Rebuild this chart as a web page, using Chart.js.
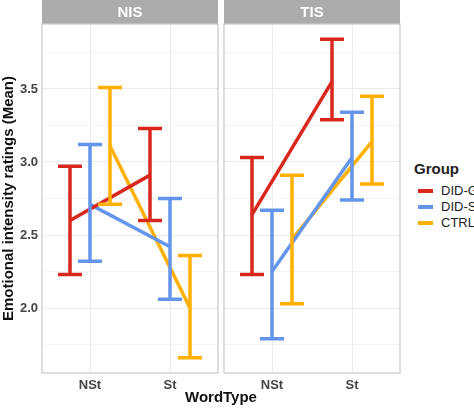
<!DOCTYPE html>
<html><head><meta charset="utf-8">
<script src="https://cdn.jsdelivr.net/npm/chart.js@4"></script>
<style>
body{margin:0;width:474px;height:410px;overflow:hidden;background:#fff;font-family:"Liberation Sans",Arial,sans-serif;position:relative}
canvas{position:absolute;top:0}
#xt{position:absolute;left:0;width:442px;top:388px;text-align:center;font-weight:bold;font-size:15px;color:#111}
#lg{position:absolute;left:414px;top:160px;font-size:13px;color:#222}
#lg .t{font-weight:bold;font-size:15px;margin-bottom:6px}
#lg .r{height:16px;line-height:16px;white-space:nowrap}
#lg .k{display:inline-block;width:15px;height:4px;vertical-align:middle;margin:0 8px 2px 4px}
</style></head><body>
<canvas id="c1" width="220" height="410" style="left:0;width:220px;height:410px"></canvas>
<canvas id="c2" width="180" height="410" style="left:222px;width:180px;height:410px"></canvas>
<div id="xt">WordType</div>
<div id="lg"><div class="t">Group</div>
<div class="r"><span class="k" style="background:#d8281e"></span>DID-G</div>
<div class="r"><span class="k" style="background:#6495ed"></span>DID-S</div>
<div class="r"><span class="k" style="background:#ffb000"></span>CTRL</div></div>
<script>
const categories=["NSt","St"];
const panels=["NIS","TIS"];
const groups=["DID-G","DID-S","CTRL"];
const colors=["#d8281e","#6495ed","#ffb000"];
const offsets=[-0.25,0,0.25];
// [panel][group] -> per category
const nisMean=[[2.60,2.91],[2.71,2.42],[3.11,2.00]];
const nisLow =[[2.23,2.60],[2.32,2.06],[2.71,1.66]];
const nisHigh=[[2.97,3.23],[3.12,2.75],[3.51,2.36]];
const tisMean=[[2.64,3.55],[2.25,3.03],[2.47,3.14]];
const tisLow =[[2.23,3.29],[1.79,2.74],[2.03,2.85]];
const tisHigh=[[3.03,3.84],[2.67,3.34],[2.91,3.45]];
const yMajor=[2.0,2.5,3.0,3.5];
const yTicks=[1.75,2.0,2.25,2.5,2.75,3.0,3.25,3.5,3.75];

function make(id,title,mean,low,high,first){
  const datasets=groups.map((g,i)=>({
    label:g,borderColor:colors[i],backgroundColor:colors[i],borderWidth:3.5,pointRadius:0,
    data:categories.map((c,j)=>({x:j+1+offsets[i],y:mean[i][j],lo:low[i][j],hi:high[i][j]}))
  }));
  const plug={id:'eb'+id,
    beforeDraw(ch){const a=ch.chartArea,x=ch.ctx;
      x.save();x.fillStyle='#ababab';x.fillRect(a.left,0,a.right-a.left,24);
      x.fillStyle='#fff';x.font='bold 15px "Liberation Sans"';x.textAlign='center';x.textBaseline='middle';
      x.fillText(title,(a.left+a.right)/2,13);x.restore();},
    afterDatasetsDraw(ch){const x=ch.ctx,sx=ch.scales.x,sy=ch.scales.y,a=ch.chartArea;
      x.save();
      ch.data.datasets.forEach(ds=>{x.strokeStyle=ds.borderColor;x.lineWidth=3.5;
        ds.data.forEach(p=>{const px=sx.getPixelForValue(p.x),y1=sy.getPixelForValue(p.lo),y2=sy.getPixelForValue(p.hi);
          x.beginPath();x.moveTo(px,y1);x.lineTo(px,y2);x.moveTo(px-12,y1);x.lineTo(px+12,y1);x.moveTo(px-12,y2);x.lineTo(px+12,y2);x.stroke();});});
      x.strokeStyle='#c8c8c8';x.lineWidth=1.2;x.strokeRect(a.left,a.top,a.right-a.left,a.bottom-a.top);
      x.restore();}
  };
  return new Chart(document.getElementById(id),{type:'line',data:{datasets},plugins:[plug],
    options:{responsive:false,animation:false,devicePixelRatio:1,
      layout:{padding:{top:24,right:2,left:first?0:2,bottom:0}},
      plugins:{legend:{display:false},tooltip:{enabled:false}},
      scales:{
        x:{type:'linear',min:0.4,max:2.6,afterBuildTicks(s){s.ticks=[{value:1},{value:2}];},
          afterFit(s){s.height=37;},
          grid:{color:'#ebebeb',drawTicks:false},border:{display:false},
          ticks:{padding:5,color:'#444',font:{size:13,weight:'bold',family:'Liberation Sans'},callback:v=>categories[v-1]}},
        y:{min:1.555,max:3.945,afterBuildTicks(s){s.ticks=yTicks.map(v=>({value:v}));},
          afterFit(s){s.width=first?42:0;},
          grid:{color:c=>yMajor.includes(c.tick&&c.tick.value)?'#ebebeb':'#f4f4f4',drawTicks:false},border:{display:false},
          title:{display:first,text:'Emotional intensity ratings (Mean)',font:{size:15,weight:'bold',family:'Liberation Sans'},color:'#111',padding:0},
          ticks:{display:first,padding:4,color:'#444',font:{size:13,weight:'bold',family:'Liberation Sans'},
            callback:v=>yMajor.includes(v)?v.toFixed(1):''}}
      }}});
}
make('c1',panels[0],nisMean,nisLow,nisHigh,true);
make('c2',panels[1],tisMean,tisLow,tisHigh,false);
</script></body></html>
